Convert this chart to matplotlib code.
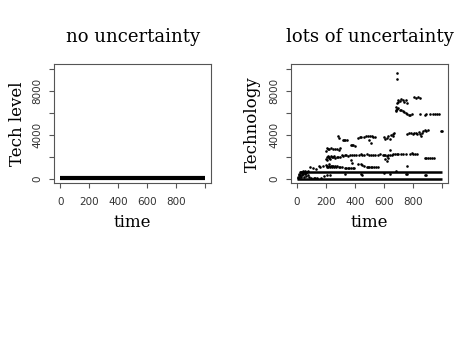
import matplotlib
matplotlib.use("Agg")
import matplotlib.pyplot as plt

# === DATOS ===
titles = ["no uncertainty", "lots of uncertainty"]
ylabels = ["Tech level", "Technology"]
xlabel = "time"

x_ticks = [0, 200, 400, 600, 800, 1000]
x_ticklabels = ["0", "200", "400", "600", "800", ""]
y_ticks = [0, 2000, 4000, 6000, 8000, 10000]
y_ticklabels = ["0", "", "4000", "", "8000", ""]

# niveles constantes (se ven como lineas gruesas de puntos)
left_level = [80]
left_start = [0]
left_end = [1000]

right_levels = [0, 640]
right_start = [0, 25]
right_end = [1000, 1000]

# puntos dispersos del panel derecho (time, technology)
scatter_t = [
    5, 10, 12, 15, 18, 20, 22, 25, 28, 30, 32, 35, 38, 40, 42, 45, 48, 50, 55, 58,
    60, 65, 70, 75, 80, 85, 90, 100, 110, 115, 125, 130, 140, 150, 160, 170, 180, 190,
    200, 205, 210, 215, 220, 225, 230, 235, 240, 245, 250, 255, 262, 270, 280, 290, 300, 310,
    330, 340, 350, 360, 375, 385, 395,
    440, 450, 460,
    480, 490, 500, 510, 520, 530, 545, 560,
    200, 205, 210, 215, 220, 225, 230, 238, 245, 250, 258, 265, 275, 285, 295,
    310, 320, 330, 340, 355, 365, 380, 395, 405,
    370, 380, 420,
    430, 440, 450, 465, 480, 495, 510, 525, 540,
    560, 575, 590, 600, 610, 620, 630, 640, 655,
    610, 620, 630, 640,
    665, 675, 690, 700, 715, 730, 750,
    760,
    780, 790, 800, 815, 830,
    880, 890, 900, 915, 930, 945,
    200, 205, 215, 225, 235, 248, 260, 275, 290, 300,
    320, 328, 335, 345,
    285, 290,
    370, 380, 390, 400,
    420, 432, 445, 460, 475, 490, 505, 515, 525, 535,
    500, 510,
    600, 610, 620, 630, 640, 650, 660, 665, 670,
    760, 770, 785, 800,
    810, 820, 830, 840, 850, 855, 860, 870, 880, 890, 900,
    990, 1000,
    690, 690,
    680, 685, 690, 695, 700, 710, 720, 730, 740, 750, 760,
    680, 690, 700, 710, 720, 730, 740, 750, 760, 770, 780, 790,
    810, 820, 835, 845,
    850, 880, 890, 920, 935, 950, 965, 980,
    210, 230, 330, 440, 450, 600, 640, 680, 750, 760, 880, 890,
]
scatter_v = [
    50, 150, 300, 100, 450, 250, 600, 380, 500, 200, 650, 550, 300, 700, 450, 600, 150, 650, 400, 700,
    550, 250, 620, 350, 680, 150, 1050, 100, 980, 80, 60, 900, 40, 1120, 1100, 30, 1150, 250,
    1250, 1100, 1200, 1050, 1180, 1300, 1100, 1150, 1080, 1200, 1120, 1050, 1150, 1100, 1130, 1080, 1100, 1050,
    980, 1000, 960, 1000, 1020, 990, 1000,
    1300, 1250, 1200,
    1100, 1050, 1100, 1080, 1060, 1080, 1070, 1060,
    1800, 2000, 1700, 2100, 1900, 2000, 1800, 2050, 1950, 2000, 2100, 1900, 2000, 1950, 2000,
    2150, 2100, 2200, 2150, 2100, 2200, 2150, 2200, 2150,
    1700, 1400, 1300,
    2200, 2250, 2200, 2200, 2250, 2200, 2150, 2200, 2200,
    2200, 2250, 2200, 2150, 2200, 2100, 2200, 2150, 2200,
    1800, 1600, 1900, 2650,
    2250, 2300, 2250, 2300, 2250, 2300, 2250,
    1200,
    2300, 2350, 2300, 2300, 2280,
    1900, 1850, 1900, 1900, 1850, 1900,
    2500, 2800, 2700, 2750, 2800, 2700, 2750, 2700, 2650, 2800,
    3550, 3500, 3550, 3500,
    3900, 3700,
    3050, 3100, 3050, 3000,
    3750, 3800, 3850, 3850, 3900, 3900, 3950, 3900, 3850, 3800,
    3500, 3300,
    3800, 3600, 3700, 3900, 3600, 4000, 4100, 3900, 4200,
    4100, 4150, 4200, 4100,
    4150, 4200, 4050, 4300, 4100, 3950, 4200, 4400, 4450, 4400, 4500,
    4400, 4350,
    9700, 9150,
    6300, 6600, 6900, 7000, 7200, 7100, 7300, 7200, 7050, 7200, 6900,
    6200, 6400, 6450, 6300, 6250, 6200, 6100, 6000, 5900, 5850, 5850, 5900,
    7450, 7400, 7450, 7350,
    5900, 5800, 5950, 5900, 5950, 5900, 5900, 5950,
    300, 350, 400, 450, 300, 500, 450, 700, 400, 450, 300, 350,
]

# === FIGURA ===
fig = plt.figure(figsize=(4.74, 3.55), dpi=100)
ax_l = fig.add_axes([0.1146, 0.4837, 0.3310, 0.3352])
ax_r = fig.add_axes([0.6139, 0.4837, 0.3310, 0.3352])
axes = [ax_l, ax_r]

serif = "DejaVu Serif"
gray = "#555555"

for lvl, s0, s1 in zip(left_level, left_start, left_end):
    ax_l.plot([s0, s1], [lvl, lvl], color="black", lw=3.0, solid_capstyle="butt")

for lvl, s0, s1 in zip(right_levels, right_start, right_end):
    ax_r.plot([s0, s1], [lvl, lvl], color="black", lw=1.8, solid_capstyle="butt")
ax_r.scatter(scatter_t, scatter_v, s=3.5, color="black", linewidths=0)

for ax, title, ylab in zip(axes, titles, ylabels):
    ax.set_xlim(-40, 1040)
    ax.set_ylim(-420, 10470)
    ax.set_xticks(x_ticks)
    ax.set_xticklabels(x_ticklabels)
    ax.set_yticks(y_ticks)
    ax.set_yticklabels(y_ticklabels, rotation=90, va="center")
    ax.tick_params(direction="out", length=3.6, width=0.8, colors=gray,
                   labelsize=7.5, labelcolor="#333333")
    ax.tick_params(axis="x", pad=6)
    ax.tick_params(axis="y", pad=5)
    for sp in ax.spines.values():
        sp.set_color(gray)
        sp.set_linewidth(0.8)
    box = ax.get_position()
    cx = (box.x0 + box.x1) / 2
    fig.text(cx, 0.896, title, ha="center", va="center", fontsize=13, family=serif)
    fig.text(cx, 0.374, xlabel, ha="center", va="center", fontsize=12, family=serif)

fig.text(0.036, 0.651, ylabels[0], ha="center", va="center", rotation=90,
         fontsize=12, family=serif)
fig.text(0.533, 0.651, ylabels[1], ha="center", va="center", rotation=90,
         fontsize=12, family=serif)

fig.savefig("out.png", dpi=100)
